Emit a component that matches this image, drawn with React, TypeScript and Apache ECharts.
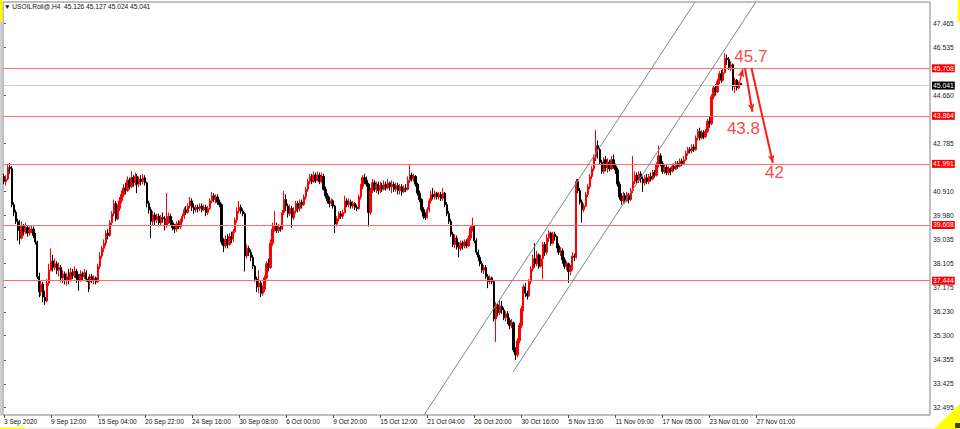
import React, { useEffect, useRef } from "react";
import * as echarts from "echarts";

// OHLC per H4 bar: [open, close, low, high]
const candles: number[][] = [
  [41.50,41.30,41.20,41.60],[41.30,41.40,41.15,41.55],[41.40,41.85,41.35,41.95],[41.85,41.80,41.60,42.02],
  [41.80,40.40,40.30,41.90],[40.40,40.10,39.95,40.50],[40.10,39.75,39.65,40.20],[39.75,39.40,39.00,39.85],
  [39.40,39.10,38.85,39.80],[39.10,39.55,39.05,39.75],[39.55,39.35,39.20,39.65],[39.35,39.50,39.25,39.70],
  [39.50,39.30,39.15,39.60],[39.30,39.40,39.20,39.55],[39.40,39.45,39.30,39.60],[39.45,39.20,39.10,39.55],
  [39.20,38.95,38.85,39.30],[38.95,37.60,37.50,39.00],[37.60,37.00,36.80,37.75],[37.00,37.30,36.85,37.45],
  [37.30,36.80,36.60,37.40],[36.80,36.65,36.50,37.05],[36.65,37.35,36.60,37.50],[37.35,37.85,37.25,38.10],
  [37.85,38.20,37.80,38.70],[38.20,37.95,37.80,38.45],[37.95,38.10,37.85,38.30],[38.10,37.85,37.70,38.20],
  [37.85,37.95,37.60,38.15],[37.95,37.55,37.40,38.05],[37.55,37.70,37.35,37.85],[37.70,37.45,37.30,37.80],
  [37.45,37.60,37.25,37.75],[37.60,37.50,37.30,37.90],[37.50,37.75,37.40,37.95],[37.75,37.65,37.50,37.90],
  [37.65,37.80,37.55,38.00],[37.80,37.55,37.35,37.90],[37.55,37.45,37.05,37.70],[37.45,37.70,37.40,37.85],
  [37.70,37.60,37.45,37.80],[37.60,37.75,37.50,37.90],[37.75,37.50,37.40,37.85],[37.50,37.40,37.00,37.60],
  [37.40,37.60,37.10,37.70],[37.60,37.45,37.35,37.70],[37.45,37.55,37.30,37.65],[37.55,37.40,37.30,37.60],
  [37.40,38.00,37.35,38.10],[38.00,38.40,37.90,38.55],[38.40,38.70,38.30,38.80],[38.70,38.90,38.55,39.05],
  [38.90,39.30,38.80,39.40],[39.30,39.20,39.05,39.45],[39.20,39.70,39.15,39.80],[39.70,40.05,39.60,40.15],
  [40.05,40.45,39.95,40.60],[40.45,39.85,39.75,40.55],[39.85,40.25,39.80,40.40],[40.25,40.55,40.15,40.70],
  [40.55,40.80,40.45,40.95],[40.80,41.05,40.70,41.20],[41.05,40.95,40.80,41.25],[40.95,41.35,40.90,41.50],
  [41.35,41.10,41.00,41.45],[41.10,41.45,41.05,41.70],[41.45,41.25,41.10,41.55],[41.25,41.50,41.15,41.65],
  [41.50,41.20,40.85,41.60],[41.20,41.40,41.10,41.50],[41.40,41.30,41.15,41.55],[41.30,41.45,41.20,41.60],
  [41.45,41.25,41.15,41.55],[41.25,40.45,40.30,41.30],[40.45,40.20,40.05,40.55],[40.20,39.75,39.10,40.30],
  [39.75,40.00,39.60,40.15],[40.00,39.80,39.60,40.10],[39.80,39.95,39.70,40.05],[39.95,39.70,39.55,40.05],
  [39.70,39.90,39.60,40.00],[39.90,39.85,39.70,40.10],[39.85,39.60,39.40,39.95],[39.60,39.80,39.50,40.85],
  [39.80,39.95,39.65,40.10],[39.95,39.70,39.60,40.05],[39.70,39.50,39.40,39.80],[39.50,39.45,39.30,39.65],
  [39.45,39.65,39.35,39.75],[39.65,39.55,39.45,39.80],[39.55,39.75,39.45,39.85],[39.75,39.95,39.70,40.05],
  [39.95,40.20,39.85,40.30],[40.20,40.10,40.00,40.35],[40.10,40.35,40.05,40.45],[40.35,40.55,40.25,40.70],
  [40.55,40.30,40.15,40.65],[40.30,40.20,40.05,40.45],[40.20,40.30,40.10,40.40],[40.30,40.25,40.10,40.40],
  [40.25,40.35,40.15,40.45],[40.35,40.20,40.10,40.45],[40.20,40.30,40.15,40.40],[40.30,40.10,39.95,40.40],
  [40.10,40.25,40.00,40.35],[40.25,40.55,40.20,40.65],[40.55,40.75,40.45,40.90],[40.75,40.60,40.50,40.85],
  [40.60,40.70,40.45,40.80],[40.70,40.50,40.40,40.80],[40.50,40.40,40.30,40.60],[40.40,38.95,38.85,40.45],
  [38.95,38.80,38.55,39.10],[38.80,39.05,38.70,39.20],[39.05,38.85,38.70,39.25],[38.85,39.15,38.80,39.30],
  [39.15,39.05,38.90,39.35],[39.05,39.35,38.95,39.45],[39.35,39.80,39.30,39.90],[39.80,40.15,39.70,40.30],
  [40.15,40.30,40.05,40.55],[40.30,40.15,40.05,40.40],[40.15,40.05,39.95,40.25],[40.05,38.40,37.80,40.10],
  [38.40,38.70,38.30,38.85],[38.70,38.55,38.40,38.80],[38.55,38.35,38.20,38.65],[38.35,38.00,37.90,38.45],
  [38.00,37.50,37.40,38.05],[37.50,37.20,37.00,37.60],[37.20,37.35,36.95,37.85],[37.35,36.95,36.80,37.45],
  [36.95,37.10,36.85,37.25],[37.10,37.55,37.00,37.65],[37.55,38.10,37.50,38.20],[38.10,37.95,37.80,38.30],
  [37.95,38.90,37.90,39.05],[38.90,39.45,38.80,39.70],[39.45,39.55,39.35,40.15],[39.55,39.40,39.30,39.70],
  [39.40,39.50,39.30,39.65],[39.50,39.45,39.35,39.60],[39.45,40.10,39.40,40.20],[40.10,40.60,40.00,40.95],
  [40.60,40.35,40.15,40.80],[40.35,40.05,39.90,40.45],[40.05,40.25,39.95,40.40],[40.25,39.90,39.50,40.35],
  [39.90,40.15,39.80,40.30],[40.15,40.45,40.05,40.55],[40.45,40.25,40.10,40.55],[40.25,40.50,40.15,40.60],
  [40.50,40.40,40.25,40.60],[40.40,40.70,40.35,40.80],[40.70,41.00,40.60,41.10],[41.00,41.30,40.90,41.40],
  [41.30,41.50,41.20,41.60],[41.50,41.30,41.20,41.60],[41.30,41.55,41.25,41.70],[41.55,41.35,41.25,41.65],
  [41.35,41.55,41.30,41.70],[41.55,41.30,41.20,41.65],[41.30,41.50,41.25,41.65],[41.50,41.00,40.95,41.60],
  [41.00,40.75,40.65,41.10],[40.75,40.55,40.45,40.85],[40.55,40.45,40.30,40.70],[40.45,40.55,40.35,40.65],
  [40.55,40.35,40.25,40.60],[40.35,39.65,39.30,40.40],[39.65,39.85,39.55,39.95],[39.85,40.05,39.75,40.15],
  [40.05,39.95,39.85,40.15],[39.95,40.10,39.85,40.20],[40.10,40.55,40.05,40.75],[40.55,40.40,40.30,40.65],
  [40.40,40.50,40.30,40.65],[40.50,40.35,40.25,40.60],[40.35,40.45,40.25,40.55],[40.45,40.30,40.20,40.50],
  [40.30,40.25,40.15,40.40],[40.25,40.70,40.20,40.80],[40.70,41.10,40.60,41.20],[41.10,41.45,41.00,41.55],
  [41.45,41.35,41.20,41.60],[41.35,41.20,41.10,41.50],[41.20,40.10,39.55,41.25],[40.10,40.95,40.00,41.05],
  [40.95,41.25,40.85,41.40],[41.25,41.00,40.90,41.35],[41.00,41.20,40.85,41.30],[41.20,40.95,40.80,41.30],
  [40.95,41.15,40.85,41.30],[41.15,41.00,40.90,41.25],[41.00,41.20,40.95,41.35],[41.20,41.05,40.95,41.30],
  [41.05,41.25,41.00,41.40],[41.25,41.10,40.95,41.30],[41.10,41.20,40.85,41.35],[41.20,41.00,40.90,41.30],
  [41.00,41.15,40.90,41.25],[41.15,40.95,40.80,41.25],[40.95,41.10,40.80,41.20],[41.10,40.90,40.75,41.20],
  [40.90,41.05,40.85,41.15],[41.05,41.00,40.90,41.20],[41.00,41.35,40.95,41.50],[41.35,41.55,41.25,41.95],
  [41.55,41.40,41.30,41.65],[41.40,41.50,41.30,41.60],[41.50,41.20,41.10,41.55],[41.20,40.85,40.75,41.25],
  [40.85,40.60,40.50,40.95],[40.60,40.20,40.10,40.65],[40.20,39.95,39.85,40.30],[39.95,39.90,39.80,40.10],
  [39.90,40.20,39.85,40.30],[40.20,40.55,40.10,40.65],[40.55,40.80,40.45,40.95],[40.80,40.70,40.60,41.05],
  [40.70,40.85,40.60,40.95],[40.85,40.70,40.60,40.90],[40.70,40.80,40.60,40.90],[40.80,40.65,40.55,40.90],
  [40.65,40.85,40.55,41.05],[40.85,40.40,40.30,40.90],[40.40,40.05,39.95,40.50],[40.05,39.75,39.65,40.15],
  [39.75,39.25,39.15,39.85],[39.25,38.85,38.75,39.35],[38.85,39.10,38.70,39.25],[39.10,38.75,38.65,39.20],
  [38.75,38.70,38.35,38.95],[38.70,38.90,38.60,39.00],[38.90,38.80,38.65,39.00],[38.80,38.95,38.70,39.05],
  [38.95,38.80,38.70,39.05],[38.80,39.10,38.75,39.20],[39.10,39.50,39.00,39.60],[39.50,39.55,39.35,39.90],
  [39.55,39.00,38.90,39.60],[39.00,38.55,38.45,39.10],[38.55,38.35,38.20,38.65],[38.35,38.10,38.00,38.45],
  [38.10,37.85,37.75,38.20],[37.85,37.95,37.70,38.05],[37.95,37.60,37.50,38.05],[37.60,37.40,37.15,37.70],
  [37.40,37.55,37.30,37.65],[37.55,37.40,37.30,37.60],[37.40,35.95,35.85,37.45],[35.95,36.50,35.05,36.60],
  [36.50,36.20,36.05,36.55],[36.20,36.45,36.10,36.70],[36.45,36.30,36.15,36.65],[36.30,36.00,35.90,36.40],
  [36.00,36.15,35.85,36.25],[36.15,35.90,35.75,36.25],[35.90,35.70,35.55,36.00],[35.70,35.80,35.60,35.95],
  [35.80,34.75,34.65,35.85],[34.75,34.55,34.35,34.85],[34.55,35.10,34.45,35.20],[35.10,35.70,35.00,35.80],
  [35.70,36.35,35.60,36.45],[36.35,37.20,36.25,37.30],[37.20,36.95,36.80,37.35],[36.95,36.85,36.70,37.05],
  [36.85,37.40,36.80,37.50],[37.40,37.90,37.30,38.00],[37.90,38.30,37.80,38.45],[38.30,38.10,37.95,38.90],
  [38.10,38.45,38.00,38.60],[38.45,38.00,37.90,38.50],[38.00,38.30,37.95,38.45],[38.30,38.85,37.50,38.95],
  [38.85,38.55,38.40,38.95],[38.55,39.10,38.45,39.25],[39.10,39.30,38.95,39.40],[39.30,38.90,38.80,39.35],
  [38.90,39.25,38.85,39.35],[39.25,39.15,39.00,39.35],[39.15,38.80,38.70,39.20],[38.80,38.55,38.45,38.90],
  [38.55,38.60,38.40,38.75],[38.60,38.25,38.10,38.70],[38.25,38.00,37.90,38.35],[38.00,38.10,37.85,38.20],
  [38.10,37.80,37.35,38.15],[37.80,37.95,37.65,38.05],[37.95,38.40,37.85,38.55],[38.40,38.35,38.20,38.50],
  [38.35,41.30,38.30,41.40],[41.30,40.95,40.85,41.40],[40.95,40.50,40.40,41.05],[40.50,40.20,39.70,40.60],
  [40.20,40.35,40.10,40.45],[40.35,40.80,40.30,40.90],[40.80,41.10,40.70,41.20],[41.10,41.50,41.00,41.60],
  [41.50,41.80,41.40,41.90],[41.80,42.25,41.70,42.35],[42.25,42.70,42.10,43.30],[42.70,42.55,42.20,42.90],
  [42.55,42.05,41.95,42.65],[42.05,41.70,41.60,42.15],[41.70,42.15,41.60,42.25],[42.15,41.85,41.70,42.30],
  [41.85,42.05,41.65,42.20],[42.05,41.80,41.70,42.15],[41.80,42.15,41.75,42.30],[42.15,41.90,41.80,42.35],
  [41.90,41.75,41.60,42.00],[41.75,41.20,41.10,41.85],[41.20,40.70,40.60,41.30],[40.70,40.55,40.40,40.85],
  [40.55,40.75,40.45,40.90],[40.75,40.55,40.45,40.85],[40.55,40.80,40.50,40.90],[40.80,40.60,40.45,40.85],
  [40.60,40.95,40.55,41.05],[40.95,41.30,40.85,42.30],[41.30,41.55,41.20,41.70],[41.55,41.35,41.20,41.65],
  [41.35,41.60,41.25,41.70],[41.60,41.40,41.25,41.70],[41.40,41.25,40.90,41.50],[41.25,41.45,41.15,41.55],
  [41.45,41.30,41.20,41.60],[41.30,41.50,41.20,41.60],[41.50,41.40,41.30,41.65],[41.40,41.65,41.35,41.75],
  [41.65,41.55,41.45,41.75],[41.55,41.95,41.50,42.05],[41.95,42.30,41.85,42.70],[42.30,42.00,41.90,42.40],
  [42.00,41.70,41.60,42.10],[41.70,41.85,41.60,41.95],[41.85,41.65,41.55,41.95],[41.65,41.80,41.55,41.90],
  [41.80,41.70,41.55,41.85],[41.70,41.90,41.65,42.00],[41.90,41.80,41.70,42.00],[41.80,42.00,41.75,42.10],
  [42.00,41.90,41.80,42.10],[41.90,42.10,41.85,42.20],[42.10,42.00,41.90,42.20],[42.00,42.15,41.95,42.30],
  [42.15,42.40,42.10,42.50],[42.40,42.55,42.30,42.65],[42.55,42.50,42.40,42.65],[42.50,42.65,42.40,42.75],
  [42.65,42.55,42.45,42.75],[42.55,43.00,42.50,43.10],[43.00,43.25,42.90,43.35],[43.25,43.00,42.90,43.40],
  [43.00,43.20,42.95,43.30],[43.20,43.05,42.95,43.30],[43.05,43.25,43.00,43.35],[43.25,43.65,43.20,43.75],
  [43.65,43.55,43.40,43.85],[43.55,44.60,43.50,44.70],[44.60,44.95,44.50,45.05],[44.95,44.80,44.65,45.10],
  [44.80,45.20,44.75,45.30],[45.20,45.50,45.10,45.60],[45.50,45.25,45.15,45.65],[45.25,45.55,45.20,45.70],
  [45.55,46.10,45.50,46.30],[46.10,46.05,45.85,46.25],[46.05,45.75,45.65,46.15],[45.75,45.85,45.60,46.00],
  [45.85,45.00,44.85,45.90],[45.00,45.25,44.75,45.35],[45.25,44.95,44.85,45.30],[44.95,45.13,44.90,45.20],
  [45.126,45.041,45.024,45.127],
];

const slotCount = 473; // visible bar slots incl. right-side shift
const labelStep = 24;
const xTickLabels = [
  "3 Sep 2020", "9 Sep 12:00", "15 Sep 04:00", "20 Sep 22:00", "24 Sep 16:00", "30 Sep 08:00",
  "6 Oct 00:00", "9 Oct 20:00", "15 Oct 12:00", "21 Oct 04:00", "26 Oct 20:00", "30 Oct 16:00",
  "5 Nov 13:00", "11 Nov 09:00", "17 Nov 05:00", "23 Nov 01:00", "27 Nov 01:00",
];
const yTicks = [
  32.495, 33.425, 34.355, 35.3, 36.23, 37.175, 38.105, 39.035, 39.98, 40.91,
  42.785, 44.66, 46.535, 47.465,
];
const yMin = 32.21;
const yMax = 48.294;
const levels = [45.708, 43.864, 41.991, 39.608, 37.444];
const bidPrice = 45.041;
const header = "\u25BC USOILRoll@,H4  45.126 45.127 45.024 45.041";

// channel lines: [barIndex, price] pairs
const channelUpper = [[214.3, 32.21], [352.6, 48.29]];
const channelLower = [[259.7, 33.88], [383.6, 48.29]];
// forecast arrows
const arrowPaths = [
  { from: [374.6, 44.96], to: [377.0, 45.68], width: 1.4 },
  { from: [378.1, 45.72], to: [381.9, 44.02], width: 2 },
  { from: [381.4, 45.72], to: [392.3, 42.03], width: 2 },
];
const notes = [
  { name: "45.7", value: [381.1, 46.17] },
  { name: "43.8", value: [377.3, 43.37] },
  { name: "42", value: [393.1, 41.65] },
];

const FONT = "Liberation Sans, Arial, sans-serif";

export default function App() {
  const ref = useRef<HTMLDivElement>(null);

  useEffect(() => {
    document.body.style.margin = "0";
    if (!ref.current) return;
    const chart = echarts.init(ref.current, null, { renderer: "svg" });

    const categories = Array.from({ length: slotCount }, (_, i) => String(i));
    const showTick = (index: number) =>
      index % labelStep === 0 && index / labelStep < xTickLabels.length;

    const boxLabel = (text: string, bg: string) => ({
      show: true,
      position: "end",
      distance: 2,
      formatter: () => text,
      backgroundColor: bg,
      color: "#ffffff",
      fontSize: 6.8,
      fontFamily: FONT,
      padding: [1, 1, 0, 1],
    });

    const levelLines = levels.map((v) => ({
      yAxis: v,
      lineStyle: { color: "#ff6b6b", width: 1, type: "solid" },
      label: boxLabel(v.toFixed(3), "#ff0000"),
    }));
    const bidLine = {
      yAxis: bidPrice,
      lineStyle: { color: "#cccccc", width: 1, type: "solid" },
      label: boxLabel(bidPrice.toFixed(3), "#000000"),
    };

    const channelStyle = { color: "#7a8795", width: 1, type: "solid" };
    const overlayLines: any[] = [
      [
        { coord: channelUpper[0], symbol: "none", lineStyle: channelStyle, label: { show: false } },
        { coord: channelUpper[1], symbol: "none" },
      ],
      [
        { coord: channelLower[0], symbol: "none", lineStyle: channelStyle, label: { show: false } },
        { coord: channelLower[1], symbol: "none" },
      ],
      ...arrowPaths.map((a) => [
        {
          coord: a.from,
          symbol: "none",
          lineStyle: { color: "#ff1a1a", width: a.width, type: "solid" },
          label: { show: false },
        },
        { coord: a.to, symbol: "arrow", symbolSize: [5, 8] },
      ]),
    ];

    chart.setOption({
      animation: false,
      textStyle: { fontFamily: FONT },
      title: {
        text: header,
        left: 4,
        top: 3,
        padding: 0,
        textStyle: { fontSize: 6.6, fontWeight: "normal", color: "#111", fontFamily: FONT },
      },
      grid: {
        left: 3,
        top: 2,
        right: 30,
        bottom: 14,
        show: true,
        backgroundColor: "#ffffff",
        borderColor: "#808080",
        borderWidth: 1,
      },
      xAxis: [
        {
          type: "category",
          data: categories,
          boundaryGap: true,
          axisLine: { show: false },
          axisTick: {
            show: true,
            interval: showTick,
            alignWithLabel: true,
            length: 3,
            lineStyle: { color: "#555" },
          },
          axisLabel: {
            show: true,
            interval: showTick,
            formatter: (_v: string, index: number) => xTickLabels[index / labelStep] ?? "",
            align: "left",
            fontSize: 6.5,
            color: "#111",
            margin: 3,
            fontFamily: FONT,
          },
          splitLine: { show: false },
        },
        {
          type: "value",
          min: -0.5,
          max: slotCount - 0.5,
          show: false,
        },
      ],
      yAxis: {
        type: "value",
        position: "right",
        min: yMin,
        max: yMax,
        axisLine: { show: false },
        splitLine: { show: false },
        axisTick: {
          show: true,
          length: 2,
          customValues: yTicks,
          lineStyle: { color: "#555" },
        },
        axisLabel: {
          show: true,
          customValues: yTicks,
          formatter: (v: number) => v.toFixed(3),
          fontSize: 6.8,
          color: "#222",
          margin: 3,
          fontFamily: FONT,
        },
      },
      series: [
        {
          type: "candlestick",
          xAxisIndex: 0,
          yAxisIndex: 0,
          data: candles,
          barWidth: 1.8,
          silent: true,
          emphasis: { disabled: true },
          itemStyle: {
            color: "#ff0000",
            color0: "#000000",
            borderColor: "#ff0000",
            borderColor0: "#000000",
            borderWidth: 1,
          },
          markLine: {
            silent: true,
            animation: false,
            symbol: ["none", "none"],
            data: [...levelLines, bidLine],
          },
        },
        {
          type: "scatter",
          xAxisIndex: 1,
          yAxisIndex: 0,
          data: notes,
          symbol: "circle",
          symbolSize: 1,
          silent: true,
          itemStyle: { color: "rgba(0,0,0,0)" },
          label: {
            show: true,
            position: "inside",
            formatter: "{b}",
            fontSize: 17,
            color: "#ff1010",
            textBorderWidth: 0,
            textBorderColor: "transparent",
            fontFamily: FONT,
          },
          markLine: {
            silent: true,
            animation: false,
            symbol: ["none", "none"],
            data: overlayLines,
          },
        },
      ],
      graphic: [
        { type: "line", shape: { x1: 1, y1: 0, x2: 1, y2: 416 }, style: { stroke: "#a0a0a0", lineWidth: 1 } },
        { type: "rect", shape: { x: 0, y: 427.5, width: 960, height: 1.5 }, style: { fill: "#f0f0f0" } },
        { type: "rect", shape: { x: 0, y: 0, width: 2.5, height: 22 }, style: { fill: "#ffff00" } },
        { type: "rect", shape: { x: 957.5, y: 0, width: 2.5, height: 22 }, style: { fill: "#ffff00" } },
        { type: "rect", shape: { x: 0, y: 427.5, width: 25, height: 1.5 }, style: { fill: "#ffff00" } },
        { type: "polygon", shape: { points: [[934, 429], [960, 404], [960, 429]] }, style: { fill: "#ffff00" } },
        { type: "rect", shape: { x: 955, y: 423, width: 5, height: 5 }, style: { fill: "#404040" } },
      ],
    });

    return () => chart.dispose();
  }, []);

  return <div ref={ref} style={{ width: 960, height: 429 }} />;
}
